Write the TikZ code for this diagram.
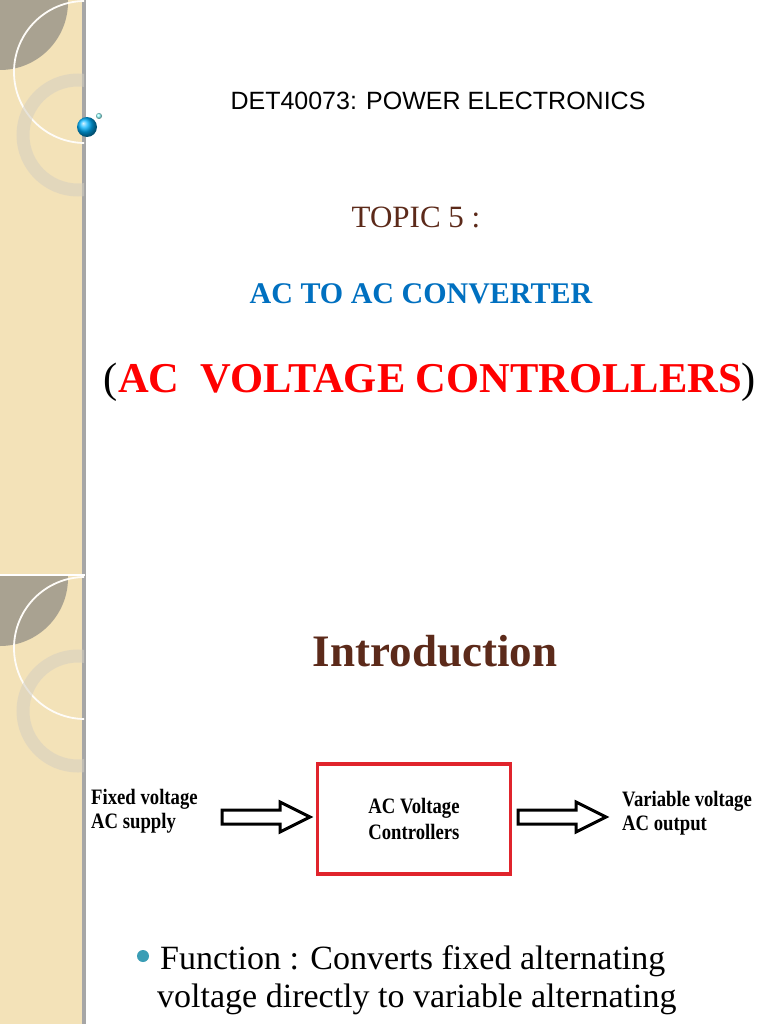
\documentclass[tikz,border=0pt]{standalone}
\usepackage{fontspec}
\usetikzlibrary{calc}
\setmainfont{Liberation Serif}
\newfontfamily\arialf{Liberation Sans}
\definecolor{beige}{HTML}{F3E2B8}
\definecolor{grayshape}{HTML}{A9A291}
\definecolor{brownt}{HTML}{5C2A1A}
\definecolor{bluet}{HTML}{0070C0}
\definecolor{redt}{HTML}{FF0000}
\definecolor{boxred}{HTML}{E0242C}
\definecolor{teal}{HTML}{3A9DB5}
\begin{document}
\begin{tikzpicture}[x=1pt,y=-1pt,
  lbl/.style={font=\bfseries\fontsize{22}{24}\selectfont,align=left,anchor=west,inner sep=0},
  barrow/.style={draw=black,line width=3pt,fill=white}]
\useasboundingbox (0,0) rectangle (768,1024);
\fill[white] (0,0) rectangle (768,1024);
\fill[beige] (0,0) rectangle (85,1024);
\fill[black!35] (82,0) rectangle (86,1024);
% decorations
\foreach \oy in {0,576}{
 \begin{scope}
  \clip (0,\oy) rectangle (84,\oy+575);
  \fill[grayshape] (0,\oy+2) circle[radius=68];
  \draw[white!90!beige,line width=1.8pt] (85,\oy+72) circle[radius=71];
  \draw[white!60!beige!85!black,line width=13pt,opacity=0.55] (78,\oy+135) circle[radius=55];
 \end{scope}}
\fill[white] (0,574) rectangle (85,576);
\shade[ball color=cyan!70!blue] (87,127) circle[radius=10];
\shade[ball color=cyan!40!white] (99,116) circle[radius=3];
% top slide texts
\node[font=\arialf\fontsize{25}{28}\selectfont] (t1) at (438,101) {DET40073: POWER ELECTRONICS};
\node[font=\fontsize{31}{34}\selectfont,text=brownt] (t2) at (416,217) {TOPIC 5 :};
\node[font=\bfseries\fontsize{30}{34}\selectfont,text=bluet] (t3) at (421,294) {AC TO AC CONVERTER};
\node[font=\fontsize{42.5}{46}\selectfont] (t4) at (430,382) {(\textcolor{redt}{\textbf{AC\ \ VOLTAGE CONTROLLERS}})};
% bottom slide
\node[font=\bfseries\fontsize{45}{48}\selectfont,text=brownt] (intro) at (435,651) {Introduction};
\node[draw=boxred,line width=3.5pt,minimum width=193pt,minimum height=110pt] (box) at (414,819) {};
\node[font=\bfseries\fontsize{22}{26}\selectfont,align=left] (boxt) at (box) {\scalebox{0.85}[1]{AC Voltage}\\\scalebox{0.85}[1]{Controllers}};
\node[lbl] (in) at (91,811) {\scalebox{0.85}[1]{Fixed voltage}\\\scalebox{0.85}[1]{AC supply}};
\node[lbl] (out) at (622,813) {\scalebox{0.85}[1]{Variable voltage}\\\scalebox{0.85}[1]{AC output}};
\coordinate (a1) at (222,817);
\coordinate (a2) at (518,817);
\foreach \c in {a1,a2}{
 \draw[barrow] ($(\c)+(0,-7)$) -- ++(58,0) -- ++(0,-8) -- ++(30,15) -- ++(-30,15) -- ++(0,-8) -- ++(-58,0) -- cycle;}
\fill[teal] (143,956) circle[radius=6];
\node[font=\fontsize{34}{40}\selectfont,align=left,anchor=north west,inner sep=0] (fn) at (160,945) {Function : Converts fixed alternating\\[-2pt]\hspace*{-3pt}voltage directly to variable alternating};
\end{tikzpicture}
\end{document}
